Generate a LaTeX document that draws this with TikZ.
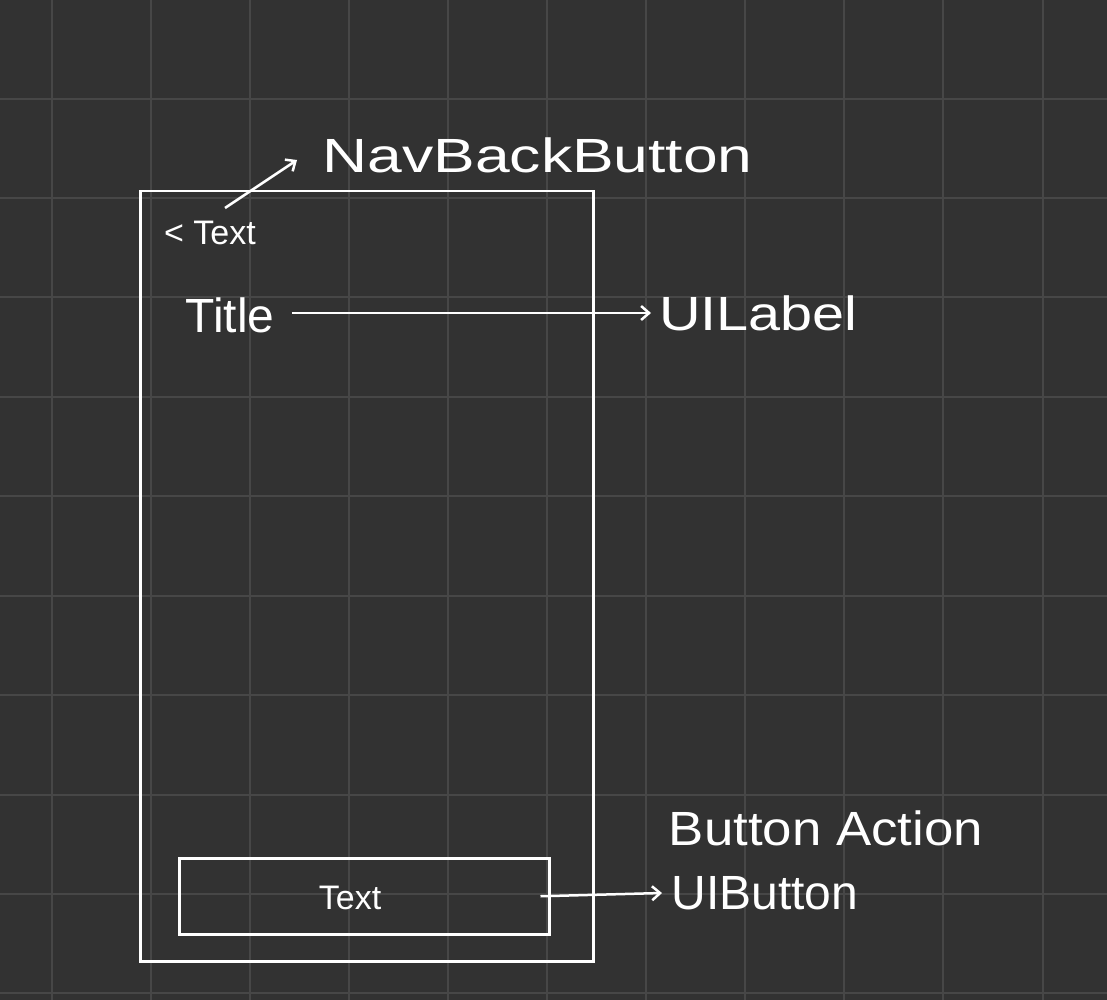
\documentclass[tikz,border=0pt]{standalone}
\usepackage{fontspec}
\setmainfont{Liberation Sans}
\definecolor{bg}{HTML}{323232}
\definecolor{gridc}{HTML}{474747}
\begin{document}
\begin{tikzpicture}[x=1pt,y=-1pt,
  lbl/.style={text=white,font=\fontsize{48}{52}\selectfont},
  small/.style={text=white,font=\fontsize{34}{38}\selectfont},
  ln/.style={draw=white,line width=2.5pt},
  arr/.style={ln,->,>={Straight Barb[length=8pt,width=14pt]}}]
\usetikzlibrary{arrows.meta}
\fill[bg] (0,0) rectangle (1107,1000);
\useasboundingbox (0,0) rectangle (1107,1000);
\foreach \x in {52,151,250,349,448,547,646,745,844,943,1043}
  \draw[gridc,line width=2pt] (\x,0) -- (\x,1000);
\foreach \y in {99,198,297,397,496,596,695,795,894,993}
  \draw[gridc,line width=2pt] (0,\y) -- (1107,\y);
\node[ln,rectangle,minimum width=453,minimum height=770,anchor=north west,inner sep=0] (phone) at (139,190) {};
\node[ln,rectangle,minimum width=370,minimum height=76,anchor=north west,inner sep=0] (btn) at (178,857) {};
\node[small] (btntext) at (350,898) {Text};
\node[small] (back) at (210,233) {< Text};
\node[lbl] (title) at (230,315) {Title};
\node[lbl,anchor=west,xscale=1.2] (uilabel) at (655,313) {UILabel};
\node[lbl,anchor=west,xscale=1.3] (nav) at (318,155) {NavBackButton};
\node[lbl,anchor=west,xscale=1.1] (action) at (665,828) {Button Action};
\node[lbl,anchor=west] (uibutton) at (668,893) {UIButton};
\coordinate (a1) at (225,208);
\draw[arr] (a1) -- (297,160);
\draw[arr] (title.east) ++(14,-2) -- ([xshift=-4pt]uilabel.west);
\draw[arr] (btn.east) ++(-10,0) -- ([xshift=-6pt]uibutton.west);
\end{tikzpicture}
\end{document}
